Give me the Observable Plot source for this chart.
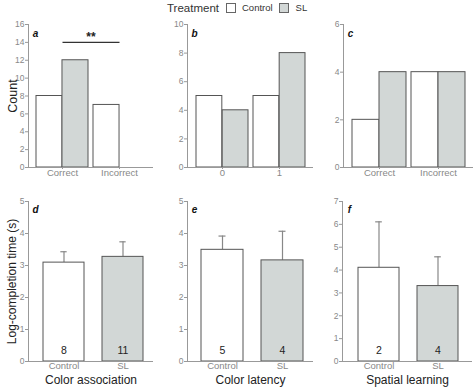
<!DOCTYPE html>
<html>
<head>
<meta charset="utf-8">
<script src="https://cdn.jsdelivr.net/npm/d3@7"></script>
<script src="https://cdn.jsdelivr.net/npm/@observablehq/plot@0.6"></script>
<style>
  body { margin: 0; background: #fff; font-family: "Liberation Sans", Arial, sans-serif; }
  #root { position: relative; width: 474px; height: 387px; overflow: hidden; }
  #root > div.panel { position: absolute; }
  #legend { position: absolute; left: 167px; top: 0; height: 15px; display: flex; align-items: center; color: #333; }
  #legend .sw { width: 9px; height: 9px; border: 1px solid #666; box-sizing: border-box; }
</style>
</head>
<body>
<div id="root">
  <div id="legend">
    <span style="font-size:11.5px;margin-right:7px">Treatment</span>
    <span class="sw" style="background:#fff;width:10px;height:10px"></span>
    <span style="font-size:9.5px;margin-left:6px;margin-right:6px">Control</span>
    <span class="sw" style="background:#d2d7d6;width:10px;height:10px"></span>
    <span style="font-size:9.5px;margin-left:7px">SL</span>
  </div>
</div>
<script>
// ---------- data ----------
const treatments = ["Control", "SL"];
const treatmentFill = ["#ffffff", "#d2d7d6"];

// top row: counts
const catsA = ["Correct", "Incorrect"];
const controlA = [8, 7];
const slA = [12, 0];
const catsB = ["0", "1"];
const controlB = [5, 5];
const slB = [4, 8];
const catsC = ["Correct", "Incorrect"];
const controlC = [2, 4];
const slC = [4, 4];
const topYMax = [16, 10, 6];
const topLetters = ["a", "b", "c"];
const countLabel = "Count";
const sigLabel = "**";
const sigY = 14;

// bottom row: log-completion time
const timeTitles = ["Color association", "Color latency", "Spatial learning"];
const meanControl = [3.09, 3.49, 4.10];
const meanSL = [3.27, 3.16, 3.30];
const upperControl = [3.43, 3.92, 6.11];
const upperSL = [3.74, 4.07, 4.58];
const nControl = [8, 5, 2];
const nSL = [11, 4, 4];
const bottomYMax = [5, 5, 7];
const bottomLetters = ["d", "e", "f"];
const timeLabel = "Log-completion time (s)";

// ---------- layout ----------
const FONT = "Liberation Sans, Arial, sans-serif";
const AXIS = "#999";
const STROKE = "#555";
const root = document.getElementById("root");

function place(node, left, top) {
  const d = document.createElement("div");
  d.className = "panel";
  d.style.left = left + "px";
  d.style.top = top + "px";
  d.appendChild(node);
  root.appendChild(d);
}

function bandwidth(w, n, pi, po) {
  return w / (n - pi + 2 * po) * (1 - pi);
}

function countPanel(i, cats, control, sl, layout) {
  const {left, width, ml, mr} = layout;
  const top = 0, height = 186, mt = 24, mb = 19;
  const pi = 0.09, po = 0.14;
  const half = bandwidth(width - ml - mr, cats.length, pi, po) / 2;
  const ctl = cats.map((c, j) => ({cat: c, value: control[j]}));
  const sls = cats.map((c, j) => ({cat: c, value: sl[j]}));
  const marks = [
    Plot.barY(ctl, {x: "cat", y: "value", insetRight: half, fill: treatmentFill[0], stroke: STROKE, strokeWidth: 1}),
    Plot.barY(sls, {x: "cat", y: "value", insetLeft: half, fill: treatmentFill[1], stroke: STROKE, strokeWidth: 1}),
    Plot.ruleY([0], {stroke: AXIS}),
    Plot.frame({anchor: "left", stroke: AXIS}),
    Plot.axisY({ticks: d3.range(0, topYMax[i] + 1, 2), tickFormat: "d", tickSize: 3, tickPadding: 1, fontSize: 8.5, label: null, stroke: AXIS}),
    Plot.axisX({tickSize: 2, tickPadding: 0, fontSize: 9.5, label: null, stroke: AXIS}),
    Plot.text([topLetters[i]], {text: d => d, frameAnchor: "top-left", dx: 7, dy: 9, textAnchor: "middle", lineAnchor: "middle", fontWeight: "bold", fontStyle: "italic", fontSize: 10, fill: "#111"})
  ];
  if (i === 0) {
    const sig = [{from: cats[0], to: cats[1], y: sigY, label: sigLabel}];
    marks.push(Plot.link(sig, {x1: "from", x2: "to", y1: "y", y2: "y", stroke: "#333", strokeWidth: 1.2}));
    marks.push(Plot.text(sig, {y: "y", text: "label", frameAnchor: "middle", textAnchor: "middle", lineAnchor: "bottom", dy: -1, fontSize: 12, fontWeight: "bold", fill: "#222"}));
    marks.push(Plot.text([countLabel], {text: d => d, frameAnchor: "left", dx: -16, rotate: -90, textAnchor: "middle", lineAnchor: "middle", fontSize: 12.5, fill: "#222"}));
  }
  const p = Plot.plot({
    width, height, marginLeft: ml, marginRight: mr, marginTop: mt, marginBottom: mb,
    style: {fontFamily: FONT, color: "#888", background: "transparent", overflow: "visible"},
    x: {domain: cats, paddingInner: pi, paddingOuter: po},
    y: {domain: [0, topYMax[i]]},
    marks
  });
  place(p, left, top);
}

function timePanel(i, layout) {
  const {left, width, ml, mr, align, po} = layout;
  const top = 190, height = 197, mt = 11, mb = 26;
  const pi = 0.3;
  const bw = bandwidth(width - ml - mr, 2, pi, po);
  const data = [
    {treat: treatments[0], mean: meanControl[i], upper: upperControl[i], n: nControl[i]},
    {treat: treatments[1], mean: meanSL[i], upper: upperSL[i], n: nSL[i]}
  ];
  const marks = [
    Plot.ruleX(data, {x: "treat", y1: "mean", y2: "upper", stroke: "#888", strokeWidth: 1.2}),
    Plot.tickY(data, {x: "treat", y: "upper", insetLeft: bw / 2 - 3.5, insetRight: bw / 2 - 3.5, stroke: "#888", strokeWidth: 1.2}),
    Plot.barY(data, {x: "treat", y: "mean", fill: d => treatmentFill[treatments.indexOf(d.treat)], stroke: STROKE, strokeWidth: 1}),
    Plot.ruleY([0], {stroke: AXIS}),
    Plot.frame({anchor: "left", stroke: AXIS}),
    Plot.axisY({ticks: d3.range(0, bottomYMax[i] + 1, 1), tickFormat: "d", tickSize: 3, tickPadding: 1, fontSize: 8.5, label: null, stroke: AXIS}),
    Plot.axisX({tickSize: 1, tickPadding: 0, fontSize: 9.5, label: null, stroke: AXIS}),
    Plot.text(data, {x: "treat", text: "n", frameAnchor: "bottom", dy: -10.5, textAnchor: "middle", lineAnchor: "middle", fontSize: 10.5, fill: "#222"}),
    Plot.text([bottomLetters[i]], {text: d => d, frameAnchor: "top-left", dx: 7, dy: 8.5, textAnchor: "middle", lineAnchor: "middle", fontWeight: "bold", fontStyle: "italic", fontSize: 10, fill: "#111"}),
    Plot.text([timeTitles[i]], {text: d => d, frameAnchor: "bottom", dy: 18.5, textAnchor: "middle", lineAnchor: "middle", fontSize: 12, fill: "#222"})
  ];
  if (i === 0) {
    marks.push(Plot.text([timeLabel], {text: d => d, frameAnchor: "left", dx: -16, rotate: -90, textAnchor: "middle", lineAnchor: "middle", fontSize: 12, fill: "#222"}));
  }
  const p = Plot.plot({
    width, height, marginLeft: ml, marginRight: mr, marginTop: mt, marginBottom: mb,
    style: {fontFamily: FONT, color: "#888", background: "transparent", overflow: "visible"},
    x: {domain: treatments, paddingInner: pi, paddingOuter: po, align},
    y: {domain: [0, bottomYMax[i]]},
    marks
  });
  place(p, left, top);
}

countPanel(0, catsA, controlA, slA, {left: 0, width: 156, ml: 28, mr: 3});
countPanel(1, catsB, controlB, slB, {left: 160, width: 156, ml: 27, mr: 3});
countPanel(2, catsC, controlC, slC, {left: 316, width: 158, ml: 27, mr: 1});

timePanel(0, {left: 0, width: 156, ml: 28, mr: 3, align: 0.6, po: 0.2});
timePanel(1, {left: 160, width: 156, ml: 27, mr: 3, align: 0.6, po: 0.2});
timePanel(2, {left: 316, width: 158, ml: 26, mr: 2, align: 0.55, po: 0.25});
</script>
</body>
</html>
